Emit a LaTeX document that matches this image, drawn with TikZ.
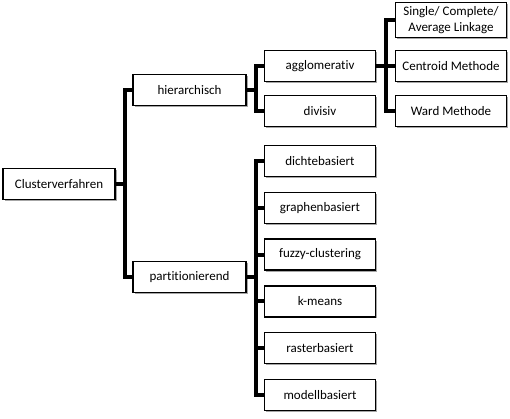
\documentclass[tikz,border=0pt]{standalone}
\usepackage{fontspec}
\setmainfont[Ligatures=NoCommon]{Carlito}
\usetikzlibrary{shadows}

\begin{document}
\begin{tikzpicture}[x=1pt,y=-1pt,
		box/.style={draw,line width=1.5pt,fill=white,minimum width=#1,minimum height=31pt,inner sep=1pt,align=center,
			font=\fontsize{13}{16}\selectfont,
			drop shadow={shadow xshift=1.5pt,shadow yshift=-1.5pt,fill=black,opacity=0.35}},
		box/.default=111pt,
		verb/.style={line width=4pt}]
		
		\useasboundingbox (0,0) rectangle (510,419);
		
		%wurzel
		\node[box=112pt] (cluster) at (59,184) {Clusterverfahren};
		
		%erste ebene
		\node[box=113pt] (hier) at (189.5,90) {hierarchisch};
		\node[box=113pt] (part) at (189.5,277) {partitionierend};
		
		%hierarchisch
		\node[box] (aggl) at (320,66) {agglomerativ};
		\node[box] (div) at (320,111) {divisiv};
		
		%agglomerativ
		\node[box,minimum height=35pt] (linkage) at (451,20) {Single/ Complete/\\Average Linkage};
		\node[box] (centroid) at (451,66) {Centroid Methode};
		\node[box] (ward) at (451,111) {Ward Methode};
		
		%partitionierend
		\foreach[count=\i] \name/\text in {dichte/dichtebasiert, graphen/graphenbasiert, fuzzy/fuzzy-clustering, kmeans/k-means, raster/rasterbasiert, modell/modellbasiert}
		\node[box] (\name) at (320,{161+46.8*(\i-1)}) {\text};
		
		%verbindungen
		\foreach \ziel in {hier,part}
		\draw[verb] (cluster.east) -- ++(9,0) |- (\ziel.west);
		
		\foreach \ziel in {aggl,div}
		\draw[verb] (hier.east) -- ++(9,0) |- (\ziel.west);
		
		\foreach \ziel in {linkage,centroid,ward}
		\draw[verb] (aggl.east) -- ++(9.5,0) |- (\ziel.west);
		
		\foreach \ziel in {dichte,graphen,fuzzy,kmeans,raster,modell}
		\draw[verb] (part.east) -- ++(9,0) |- (\ziel.west);
		
	\end{tikzpicture}
\end{document}
